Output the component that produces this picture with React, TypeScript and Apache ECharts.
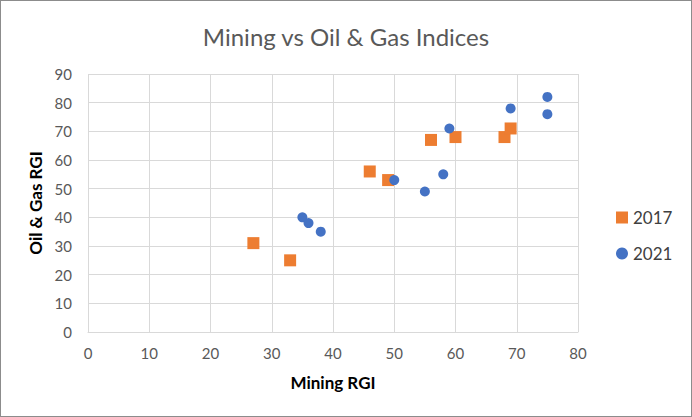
import React, { useEffect, useRef } from "react";
import * as echarts from "echarts";

const titleText = "Mining vs Oil & Gas Indices";
const xAxisName = "Mining RGI";
const yAxisName = "Oil & Gas RGI";
const seriesNames = ["2017", "2021"];
const mining2017 = [27, 33, 46, 49, 56, 60, 68, 69];
const oilGas2017 = [31, 25, 56, 53, 67, 68, 68, 71];
const mining2021 = [35, 36, 38, 50, 55, 58, 59, 69, 75, 75];
const oilGas2021 = [40, 38, 35, 53, 49, 55, 71, 78, 82, 76];

const FONT = "Lato, 'Open Sans', sans-serif";

export default function App() {
  const ref = useRef<HTMLDivElement>(null);
  useEffect(() => {
    if (!ref.current) return;
    const chart = echarts.init(ref.current, undefined, { renderer: "svg" });
    const d2017 = mining2017.map((x, i) => [x, oilGas2017[i]]);
    const d2021 = mining2021.map((x, i) => [x, oilGas2021[i]]);
    chart.setOption({
      animation: false,
      backgroundColor: "transparent",
      title: {
        text: titleText,
        left: "center",
        top: 19,
        textStyle: { fontFamily: FONT, fontSize: 24, fontWeight: "normal", color: "#595959" },
      },
      grid: { left: 88, right: 114, top: 74, bottom: 85 },
      legend: {
        orient: "vertical",
        left: 611,
        top: 204,
        itemGap: 19,
        itemWidth: 12,
        itemHeight: 12,
        textStyle: { fontFamily: FONT, fontSize: 17, color: "#404040" },
        data: [
          { name: seriesNames[0], icon: "rect" },
          { name: seriesNames[1], icon: "circle" },
        ],
      },
      xAxis: {
        type: "value",
        min: 0,
        max: 80,
        interval: 10,
        name: xAxisName,
        nameLocation: "middle",
        nameGap: 42,
        nameTextStyle: { fontFamily: FONT, fontSize: 17, fontWeight: "bold", color: "#000" },
        axisLine: { show: true, lineStyle: { color: "#d9d9d9", width: 1 } },
        axisTick: { show: false },
        axisLabel: { margin: 13, fontFamily: FONT, fontSize: 15, color: "#595959" },
        splitLine: { show: true, lineStyle: { color: "#d9d9d9", width: 1 } },
      },
      yAxis: {
        type: "value",
        min: 0,
        max: 90,
        interval: 10,
        name: yAxisName,
        nameLocation: "middle",
        nameGap: 42,
        nameRotate: 90,
        nameTextStyle: { fontFamily: FONT, fontSize: 17, fontWeight: "bold", color: "#000" },
        axisLine: { show: false },
        axisTick: { show: false },
        axisLabel: { margin: 16, fontFamily: FONT, fontSize: 15, color: "#595959" },
        splitLine: { show: true, lineStyle: { color: "#d9d9d9", width: 1 } },
      },
      series: [
        {
          name: seriesNames[0],
          type: "scatter",
          symbol: "rect",
          symbolSize: 12,
          itemStyle: { color: "#ED7D31", opacity: 1 },
          data: d2017,
        },
        {
          name: seriesNames[1],
          type: "scatter",
          symbol: "circle",
          symbolSize: 10,
          itemStyle: { color: "#4472C4", opacity: 1 },
          data: d2021,
        },
      ],
    });
    return () => chart.dispose();
  }, []);
  return (
    <div
      style={{
        position: "fixed",
        left: 0,
        top: 0,
        width: 692,
        height: 417,
        boxSizing: "border-box",
        border: "1px solid #8c8c8c",
        background: "#fff",
      }}
    >
      <div ref={ref} style={{ position: "absolute", left: -1, top: -1, width: 692, height: 417 }} />
    </div>
  );
}
